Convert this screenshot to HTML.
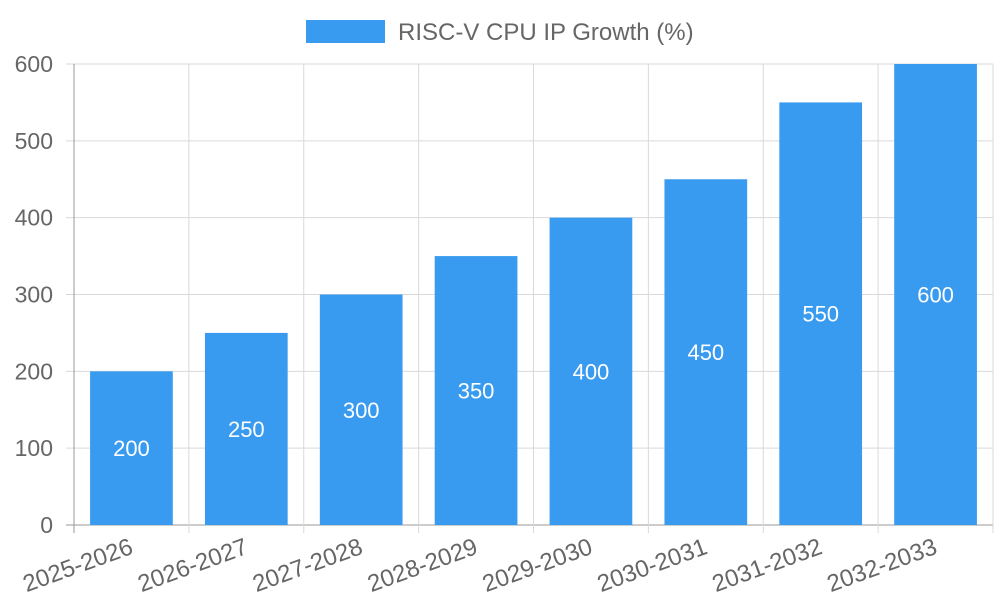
<!DOCTYPE html>
<html><head><meta charset="utf-8"><style>
html,body{margin:0;padding:0;background:#fff;}
svg{display:block;font-family:"Liberation Sans",sans-serif;}
</style></head><body>
<svg id="chart" width="1000" height="600">
  <g>
    <rect x="306" y="20" width="79" height="23" fill="#389bf0"></rect>
    <text x="398" y="40" font-size="24" fill="#666">RISC-V CPU IP Growth (%)</text>
  </g>
  <g id="grid"></g>
  <g id="bars"></g>
  <g id="axes"></g>
</svg>
<script>
const categories = ["2025-2026","2026-2027","2027-2028","2028-2029","2029-2030","2030-2031","2031-2032","2032-2033"];
const values = [200,250,300,350,400,450,550,600];
const yTicks = [0,100,200,300,400,500,600];

const NS = "http://www.w3.org/2000/svg";
const L = 74, R = 993, T = 64, B = 525, yMax = 600;
const band = (R - L) / categories.length;
const yScale = v => B - (v / yMax) * (B - T);
const xScale = i => L + band * i;
function mk(tag, attrs, parent) {
  const e = document.createElementNS(NS, tag);
  for (const k in attrs) e.setAttribute(k, attrs[k]);
  parent.appendChild(e);
  return e;
}
const grid = document.getElementById("grid");
const bars = document.getElementById("bars");
const axes = document.getElementById("axes");

yTicks.forEach(t => {
  const y = yScale(t);
  const l = mk("line", {x1: L - 8, x2: R, y1: y, y2: y, stroke: t === 0 ? "#999" : "#d9d9d9", "stroke-width": 1}, grid);
  
  
  const tx = mk("text", {x: 53, y: y + 8, "text-anchor": "end", "font-size": 23, fill: "#666"}, axes);
  tx.textContent = t;
  
  
});
for (let i = 0; i <= categories.length; i++) {
  const x = xScale(i);
  const l = mk("line", {x1: x, x2: x, y1: T, y2: B + 8, stroke: i === 0 ? "#999" : "#d9d9d9", "stroke-width": 1}, grid);
  
  
}
categories.forEach((c, i) => {
  const cx = xScale(i) + band / 2;
  const w = band * 0.72;
  const y = yScale(values[i]);
  const r = mk("rect", {x: cx - w / 2, y: y, width: w, height: B - y, fill: "#389bf0"}, bars);
  
  
  const v = mk("text", {x: cx, y: (y + B) / 2 + 8, "text-anchor": "middle", "font-size": 22, fill: "#fff"}, bars);
  v.textContent = values[i];
  
  
  const lx = cx + 3, ly = 553;
  const tl = mk("text", {x: lx, y: ly, "text-anchor": "end", "font-size": 24, fill: "#666", transform: `rotate(-20 ${lx} ${ly})`}, axes);
  tl.textContent = c;
  
  
});
</script>
</body></html>
